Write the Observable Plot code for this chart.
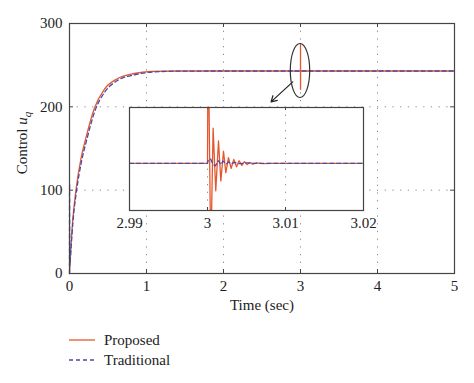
<!DOCTYPE html>
<html>
<head>
<meta charset="utf-8">
<script src="https://cdn.jsdelivr.net/npm/d3@7"></script>
<script src="https://cdn.jsdelivr.net/npm/@observablehq/plot@0.6"></script>
<style>
  body { margin: 0; background: white; }
  #wrap { position: relative; width: 474px; height: 383px; font-family: "Liberation Serif", "DejaVu Serif", serif; }
  #inset { position: absolute; left: 99px; top: 102px; }
  #legend { padding-top: 10px; padding-left: 69px; font-size: 15px; color: #222; }
  .row { height: 20px; display: flex; align-items: center; }
  .row svg { margin-right: 9px; }
</style>
</head>
<body>
<div id="wrap">
  <div id="main"></div>
  <div id="inset"></div>
  <div id="legend"></div>
</div>
<script>
// ---- data ----
const seriesNames = ["Proposed", "Traditional"];
const seriesColors = ["#e4572e", "#4a4aa8"];

const xTicks = [0, 1, 2, 3, 4, 5];
const yTicks = [0, 100, 200, 300];
const xGrid = [1, 2, 3, 4];
const yGrid = [100, 200];

const propT = [0, 0.02, 0.042, 0.084, 0.149, 0.214, 0.322, 0.452, 0.626, 0.84, 1.06, 1.4, 2, 2.9999];
const propV = [0, 35, 64, 100, 138, 163, 198, 221, 234, 240, 242.5, 243, 243, 243];
const propSpikeT = [2.9999, 3.0001, 3.0004, 3.001, 4, 5];
const propSpikeV = [243, 275, 221, 243, 243, 243];

const tradT = [0, 0.001, 0.004, 0.02, 0.045, 0.09, 0.155, 0.22, 0.33, 0.46, 0.63, 0.85, 1.08, 1.4, 2, 5];
const tradV = [0, 108, 10, 30, 62, 98, 134, 159, 195, 218, 232, 238.5, 241.8, 242.8, 243, 243];

const insetXTicks = [2.99, 3, 3.01, 3.02];
const insetGrid = [3, 3.01];
const insetPropT = [2.99, 3.0, 3.00008, 3.00042, 3.00072, 3.00106, 3.00141, 3.00171, 3.00205, 3.00235, 3.00269, 3.00303, 3.00337, 3.00372, 3.00405, 3.0044, 3.00474, 3.00508, 3.00542, 3.0058, 3.0063, 3.0071, 3.0081, 3.02];
const insetPropV = [243, 243, 275, 221, 251.2, 236.6, 248.2, 238.9, 245.8, 240.8, 244.3, 241.8, 243.9, 242.2, 243.6, 242.5, 243.4, 242.7, 243.2, 242.8, 243.1, 242.9, 243, 243];
const insetTradT = [2.99, 3.0, 3.0001, 3.0004, 3.0007, 3.001, 3.0014, 3.0017, 3.002, 3.0024, 3.0027, 3.003, 3.0035, 3.004, 3.005, 3.006, 3.02];
const insetTradV = [243, 243, 243.8, 244, 242.8, 242.4, 243.6, 242.7, 243.5, 242.8, 243.3, 242.9, 243.2, 242.9, 243.1, 243, 243];

const arrowFrom = [2.90, 230];
const arrowTo = [2.617, 206];
const ellipseCenter = [3, 243];
const ellipseRadius = [0.126, 32.4];

// ---- build tables ----
const prop = propT.map((t, i) => ({t, v: propV[i]}));
const propSpike = propSpikeT.map((t, i) => ({t, v: propSpikeV[i]}));
const trad = tradT.map((t, i) => ({t, v: tradV[i]}));
const iprop = insetPropT.map((t, i) => ({t, v: insetPropV[i]}));
const itrad = insetTradT.map((t, i) => ({t, v: insetTradV[i]}));

const font = "'Liberation Serif', 'DejaVu Serif', serif";
const gridStyle = {stroke: "#888", strokeWidth: 1, strokeDasharray: "1.2,6.5"};
const frameW = 385, frameH = 250;

const main = Plot.plot({
  width: 474, height: 320,
  marginLeft: 69, marginRight: 20, marginTop: 23, marginBottom: 47,
  style: {fontFamily: font, fontSize: "15px", color: "#222", background: "white"},
  x: {domain: [0, 5], ticks: xTicks, tickSize: 0, tickPadding: 7, label: null, tickFormat: d => String(d)},
  y: {domain: [0, 300], ticks: yTicks, tickSize: 0, tickPadding: 7, label: null, tickFormat: d => String(d)},
  marks: [
    Plot.ruleX(xGrid, {x: d => d, ...gridStyle}),
    Plot.ruleY(yGrid, {y: d => d, ...gridStyle}),
    Plot.ruleX(xGrid, {x: d => d, stroke: "#444", insetTop: frameH - 4}),
    Plot.ruleX(xGrid, {x: d => d, stroke: "#444", insetBottom: frameH - 4}),
    Plot.ruleY(yGrid, {y: d => d, stroke: "#444", insetRight: frameW - 4}),
    Plot.ruleY(yGrid, {y: d => d, stroke: "#444", insetLeft: frameW - 4}),
    Plot.line(prop, {x: "t", y: "v", stroke: seriesColors[0], strokeWidth: 1.3, curve: "monotone-x"}),
    Plot.line(propSpike, {x: "t", y: "v", stroke: seriesColors[0], strokeWidth: 1.3}),
    Plot.line(trad, {x: "t", y: "v", stroke: seriesColors[1], strokeWidth: 1.3, strokeDasharray: "4,3", curve: "monotone-x"}),
    Plot.arrow([0], {x1: () => arrowFrom[0], y1: () => arrowFrom[1], x2: () => arrowTo[0], y2: () => arrowTo[1], stroke: "#222", strokeWidth: 1.2, headLength: 8}),
    Plot.text(["Time (sec)"], {frameAnchor: "bottom", dy: 36, text: d => d, fontSize: 15, fill: "#222"}),
    Plot.frame({stroke: "#444", strokeWidth: 1.2})
  ]
});
document.getElementById("main").appendChild(main);

// ellipse annotation + y label
const sx = main.scale("x"), sy = main.scale("y");
const svgSel = d3.select(main);
const cx = sx.apply(ellipseCenter[0]), cy = sy.apply(ellipseCenter[1]);
const rx = sx.apply(ellipseCenter[0] + ellipseRadius[0]) - cx;
const ry = cy - sy.apply(ellipseCenter[1] + ellipseRadius[1]);
svgSel.append("ellipse").attr("cx", cx).attr("cy", cy).attr("rx", rx).attr("ry", ry)
  .attr("fill", "none").attr("stroke", "#333").attr("stroke-width", 1.2);

const yl = svgSel.append("text")
  .attr("transform", "translate(27,143) rotate(-90)")
  .attr("text-anchor", "middle")
  .attr("font-family", font).attr("font-size", 15).attr("fill", "#222");
yl.append("tspan").text("Control ");
yl.append("tspan").attr("font-style", "italic").text("u");
yl.append("tspan").attr("font-style", "italic").attr("font-size", 11).attr("dy", 4).text("q");

// ---- inset ----
const inset = Plot.plot({
  width: 294, height: 133,
  marginLeft: 30, marginRight: 30, marginTop: 5, marginBottom: 25,
  style: {fontFamily: font, fontSize: "15px", color: "#222", background: "transparent", overflow: "visible"},
  x: {domain: [2.99, 3.02], ticks: insetXTicks, tickSize: 0, tickPadding: 7, label: null, tickFormat: d => String(d)},
  y: {domain: [232, 256], axis: null},
  marks: [
    Plot.frame({fill: "white", stroke: "none"}),
    Plot.ruleX(insetGrid, {x: d => d, ...gridStyle}),
    Plot.ruleX(insetGrid, {x: d => d, stroke: "#444", insetTop: 100}),
    Plot.ruleX(insetGrid, {x: d => d, stroke: "#444", insetBottom: 100}),
    Plot.line(iprop, {x: "t", y: "v", stroke: seriesColors[0], strokeWidth: 1.3, clip: true}),
    Plot.line(itrad, {x: "t", y: "v", stroke: seriesColors[1], strokeWidth: 1.3, strokeDasharray: "4,3", clip: true}),
    Plot.frame({stroke: "#444", strokeWidth: 1.2})
  ]
});
document.getElementById("inset").appendChild(inset);

// ---- legend ----
const legend = d3.select("#legend");
seriesNames.forEach((name, i) => {
  const row = legend.append("div").attr("class", "row");
  const s = row.append("svg").attr("width", 26).attr("height", 10);
  s.append("line").attr("x1", 0).attr("x2", 26).attr("y1", 5).attr("y2", 5)
    .attr("stroke", seriesColors[i]).attr("stroke-width", 1.3)
    .attr("stroke-dasharray", i === 1 ? "4,3" : null);
  row.append("span").text(name);
});
</script>
</body>
</html>
